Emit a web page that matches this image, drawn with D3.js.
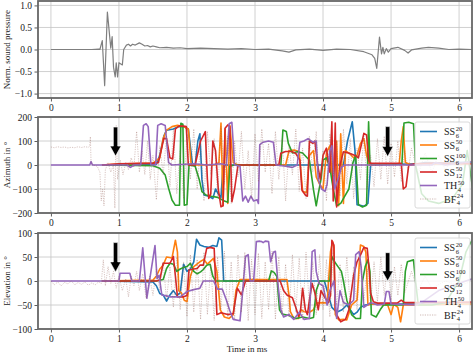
<!DOCTYPE html>
<html>
<head>
<meta charset="utf-8">
<script src="https://cdn.jsdelivr.net/npm/d3@7"></script>
<style>
body { margin: 0; background: #fff; }
text { font-family: "Liberation Serif", "DejaVu Serif", serif; fill: #222; }
</style>
</head>
<body>
<script>
// ---- data: [time in ms, value] ----
let pressure = [[0,0],[0.3,0],[0.6,0],[0.7,0.01],[0.72,0],[0.755,0.2],[0.79,-0.82],[0.83,0.85],[0.88,0.03],[0.9,0.29],[0.92,-0.4],[0.945,-0.62],[0.96,-0.3],[0.98,-0.62],[1.0,-0.3],[1.05,-0.35],[1.07,0],[1.11,0.1],[1.14,0.12],[1.17,0.08],[1.2,0.12],[1.24,0.1],[1.3,0.15],[1.34,0.12],[1.38,0.08],[1.42,0.09],[1.46,0.06],[1.5,0.08],[1.55,0.06],[1.6,0.04],[1.7,0.05],[1.8,0.03],[1.9,0.04],[2.0,0.02],[2.2,0.03],[2.4,0.02],[2.6,0.01],[2.8,0.02],[3.0,0.0],[3.2,0.01],[3.4,-0.03],[3.5,-0.06],[3.6,-0.01],[3.8,0.01],[4.0,-0.02],[4.2,0.01],[4.4,0.0],[4.6,-0.05],[4.72,-0.12],[4.76,-0.2],[4.79,-0.43],[4.83,0.28],[4.86,-0.1],[4.88,0.05],[4.9,-0.1],[4.93,0.02],[4.96,-0.06],[5.0,0.02],[5.1,0.05],[5.2,-0.02],[5.25,-0.08],[5.3,-0.01],[5.45,0.03],[5.55,0.05],[5.7,0.03],[5.85,0.0],[6.0,0.01],[6.2,0.0]];

let azSS20 = [[0.75,0],[1.55,3],[1.6,40],[1.66,120],[1.7,145],[1.8,150],[1.88,160],[1.95,160],[2.02,150],[2.08,5],[2.12,0],[2.16,100],[2.19,130],[2.22,-60],[2.25,-125],[2.32,-130],[2.38,-140],[2.42,-100],[2.46,-120],[2.5,-135],[2.53,-5],[2.6,0],[4.3,0],[4.36,100],[4.43,180],[4.47,60],[4.5,-165],[4.6,-172],[4.66,-160],[4.7,0],[5.4,5],[5.5,10],[5.8,8],[6.2,12]];
let azSS50 = [[0.75,0],[1.0,4],[1.5,8],[1.6,30],[1.65,110],[1.7,145],[1.78,160],[1.86,165],[1.95,160],[2.02,150],[2.06,5],[2.1,0],[2.4,0],[2.47,10],[2.5,175],[2.53,-170],[2.56,150],[2.6,-160],[2.63,165],[2.68,10],[2.75,0],[3.45,0],[3.5,60],[3.58,62],[3.65,55],[3.7,-110],[3.76,-115],[3.8,40],[3.86,60],[3.9,-50],[3.95,-80],[4.0,-100],[4.05,50],[4.1,80],[4.15,-100],[4.2,100],[4.23,-170],[4.26,130],[4.3,-160],[4.33,60],[4.4,45],[4.45,30],[4.5,40],[4.55,90],[4.6,110],[4.64,40],[4.68,0],[5.12,5],[5.15,100],[5.18,160],[5.21,10],[5.3,0],[5.5,5],[6.2,5]];
let azSS100 = [[0.75,0],[1.5,-3],[1.6,-14],[1.68,-42],[1.73,-97],[1.78,-146],[1.83,-168],[1.89,-168],[1.91,174],[1.94,170],[1.96,-168],[2.0,-165],[2.03,0],[2.12,-5],[2.18,-60],[2.22,-111],[2.28,-125],[2.36,-130],[2.45,-135],[2.55,-150],[2.6,-155],[2.63,-5],[2.7,0],[3.38,0],[3.41,146],[3.46,140],[3.49,90],[3.55,50],[3.62,55],[3.7,50],[3.8,20],[3.86,-104],[3.9,-170],[3.93,-120],[3.97,-60],[4.0,20],[4.05,30],[4.1,-10],[4.15,-100],[4.2,-170],[4.26,-160],[4.32,-130],[4.38,-100],[4.44,10],[4.48,40],[4.52,-165],[4.58,-175],[4.64,-168],[4.67,180],[4.69,5],[5.16,5],[5.19,175],[5.26,178],[5.33,172],[5.36,0],[5.45,-120],[5.55,-150],[5.7,-160],[5.9,-140],[6.05,-80],[6.12,60],[6.2,-100]];
let azSS12 = [[0.75,0],[1.0,5],[1.5,8],[1.58,10],[1.62,60],[1.66,111],[1.7,110],[1.75,30],[1.79,25],[1.83,150],[1.88,162],[1.95,162],[1.99,160],[2.02,0],[2.12,0],[2.2,100],[2.27,139],[2.3,-60],[2.32,-139],[2.35,-120],[2.38,100],[2.42,60],[2.46,-100],[2.5,-174],[2.53,-170],[2.56,153],[2.6,167],[2.63,160],[2.66,-153],[2.7,-100],[2.75,0],[3.35,0],[3.38,49],[3.45,56],[3.54,56],[3.6,48],[3.66,20],[3.69,-104],[3.74,-125],[3.77,-130],[3.8,100],[3.85,90],[3.88,100],[3.92,0],[3.96,-60],[4.0,40],[4.05,70],[4.1,-30],[4.13,180],[4.15,-150],[4.18,175],[4.2,-175],[4.25,0],[4.3,55],[4.4,48],[4.47,40],[4.52,30],[4.56,80],[4.6,132],[4.64,125],[4.67,20],[4.7,7],[5.15,7],[5.18,-100],[5.22,-90],[5.26,0],[5.35,5],[5.6,8],[6.2,5]];
let azTH = [[0,0],[0.57,0],[0.59,14],[0.61,0],[1.12,0],[1.17,-10],[1.22,0],[1.32,0],[1.36,165],[1.4,172],[1.43,160],[1.47,0],[1.54,0],[1.57,165],[1.62,172],[1.68,165],[1.73,10],[1.78,0],[2.1,5],[2.3,0],[2.5,5],[2.58,0],[2.62,172],[2.66,178],[2.7,0],[2.78,-5],[2.82,-150],[2.86,-130],[2.9,-155],[2.94,-130],[2.98,-150],[3.03,-145],[3.05,-160],[3.07,85],[3.12,95],[3.2,100],[3.27,95],[3.31,0],[3.45,-5],[3.55,-10],[3.62,0],[3.66,95],[3.72,100],[3.78,110],[3.85,95],[3.9,100],[3.93,-60],[3.98,-100],[4.03,-110],[4.06,-80],[4.1,60],[4.13,80],[4.17,-100],[4.22,-60],[4.27,-10],[4.32,0],[5.6,0],[5.65,10],[5.8,0],[6.2,15]];
let azBF = [[0,75],[0.05,72],[0.1,76],[0.15,73],[0.2,75],[0.25,71],[0.3,74],[0.35,72],[0.4,76],[0.45,73],[0.5,76],[0.55,74],[0.57,78],[0.58,118],[0.59,10],[0.62,0],[0.68,-5],[0.72,-30],[0.74,-150],[0.76,-100],[0.78,-170],[0.8,-20],[0.84,10],[0.88,-30],[0.92,0],[0.94,-180],[0.96,165],[0.98,-60],[1.02,20],[1.06,-40],[1.1,10],[1.14,-20],[1.18,30],[1.22,-10],[1.26,140],[1.3,-30],[1.34,60],[1.38,-40],[1.42,100],[1.46,-60],[1.5,40],[1.55,-145],[1.6,80],[1.65,-40],[1.7,120],[1.75,-90],[1.8,150],[1.85,-120],[1.9,60],[1.95,-140],[2.0,130],[2.05,-60],[2.1,150],[2.15,-100],[2.2,90],[2.25,-150],[2.3,140],[2.35,-40],[2.4,110],[2.45,-130],[2.5,160],[2.55,-80],[2.6,120],[2.65,-160],[2.7,100],[2.75,-50],[2.8,140],[2.85,-100],[2.9,60],[2.95,-140],[3.0,130],[3.05,-70],[3.1,150],[3.15,-30],[3.2,90],[3.25,-120],[3.3,140],[3.35,-60],[3.4,110],[3.45,-150],[3.5,80],[3.55,-40],[3.6,150],[3.65,-110],[3.7,70],[3.75,-140],[3.8,120],[3.85,-30],[3.9,140],[3.95,-100],[4.0,60],[4.05,-150],[4.1,130],[4.15,-50],[4.2,100],[4.25,-130],[4.3,150],[4.35,-80],[4.4,110],[4.45,-140],[4.5,70],[4.55,-60],[4.6,120],[4.65,-100],[4.7,40],[4.75,-90],[4.8,110],[4.85,-60],[4.9,120],[4.95,-80],[5.0,90],[5.05,-50],[5.1,100],[5.15,-70],[5.2,60],[5.25,-30],[5.3,70],[5.4,-40],[5.5,50],[5.6,-30],[5.7,40],[5.8,-20],[5.9,30],[6.0,-10],[6.1,20],[6.2,0]];

let elSS20 = [[0.75,0],[1.5,-2],[1.55,-10],[1.6,-26],[1.65,-29],[1.7,-42],[1.75,-29],[1.8,-20],[1.85,-30],[1.9,-25],[1.95,35],[2.0,20],[2.05,25],[2.1,40],[2.14,87],[2.19,75],[2.25,72],[2.32,70],[2.38,74],[2.44,72],[2.47,90],[2.51,85],[2.54,0],[4.02,0],[4.08,-30],[4.13,-55],[4.2,-65],[4.28,-60],[4.35,-50],[4.4,-60],[4.45,-70],[4.5,-65],[4.55,-55],[4.62,-50],[4.7,-48],[5.38,-48],[5.5,-45],[6.2,-45]];
let elSS50 = [[0.75,0],[1.5,2],[1.55,10],[1.6,25],[1.65,33],[1.7,50],[1.78,48],[1.83,85],[1.86,60],[1.88,-20],[1.92,-25],[1.96,-40],[2.0,-43],[2.05,10],[2.1,30],[2.19,40],[2.25,45],[2.3,35],[2.39,47],[2.44,20],[2.49,-60],[2.55,-75],[2.62,-78],[2.68,-70],[2.72,-20],[2.78,3],[3.47,3],[3.5,-30],[3.52,-64],[3.57,-78],[3.64,-78],[3.68,-60],[3.72,-64],[3.8,-65],[3.86,-60],[3.9,-46],[4.0,-45],[4.06,-46],[4.11,61],[4.14,82],[4.16,70],[4.18,-70],[4.23,-81],[4.3,-80],[4.35,-81],[4.42,-50],[4.5,-40],[4.55,75],[4.6,72],[4.63,60],[4.66,-50],[4.72,-48],[4.95,-50],[5.0,-70],[5.04,-48],[5.1,-55],[5.14,-85],[5.18,-50],[5.38,-50],[6.2,-48]];
let elSS100 = [[0.75,0],[1.55,0],[1.65,3],[1.7,26],[1.75,37],[1.8,35],[1.85,20],[1.9,25],[1.95,28],[2.0,30],[2.05,37],[2.1,20],[2.15,15],[2.2,19],[2.24,24],[2.29,33],[2.34,35],[2.38,10],[2.42,0],[3.2,0],[3.24,21],[3.28,18],[3.32,10],[3.36,-60],[3.4,-69],[3.5,-72],[3.6,-78],[3.7,-75],[3.8,-78],[3.86,-76],[3.9,-20],[3.95,0],[4.1,0],[4.13,51],[4.17,40],[4.22,30],[4.27,20],[4.3,0],[4.35,-40],[4.42,-70],[4.48,-78],[4.55,-78],[4.58,0],[4.62,30],[4.66,44],[4.69,20],[4.71,-70],[4.78,-75],[4.84,-60],[4.89,-50],[5.18,-50],[5.21,20],[5.24,40],[5.33,44],[5.36,0],[5.4,-50],[5.6,-50],[5.8,-45],[6.0,0],[6.1,60],[6.17,80],[6.2,85]];
let elSS12 = [[0.75,0],[1.55,0],[1.6,2],[1.65,37],[1.7,37],[1.75,37],[1.8,51],[1.83,10],[1.86,-33],[1.95,-33],[2.0,-30],[2.03,23],[2.1,25],[2.15,26],[2.19,33],[2.24,33],[2.29,68],[2.34,70],[2.4,68],[2.44,-70],[2.5,-66],[2.6,-70],[2.68,-68],[2.74,-15],[2.8,-29],[2.86,0],[3.37,0],[3.42,-20],[3.47,-29],[3.55,-35],[3.6,-55],[3.64,-74],[3.67,-60],[3.7,-15],[3.74,-60],[3.77,-70],[3.8,-40],[3.84,-5],[3.88,-25],[3.93,-60],[3.97,-20],[4.03,-35],[4.08,-45],[4.11,-30],[4.13,85],[4.16,75],[4.18,-60],[4.2,-70],[4.26,-85],[4.33,-80],[4.38,-60],[4.45,12],[4.5,40],[4.55,54],[4.6,70],[4.65,68],[4.68,20],[4.7,-25],[4.74,-43],[4.8,-46],[5.09,-46],[5.15,-40],[5.2,-45],[5.38,-45],[6.2,-44]];
let elTH = [[0,0],[1.0,0],[1.015,16],[1.16,16],[1.19,0],[1.3,0],[1.35,69],[1.41,-36],[1.46,10],[1.53,74],[1.56,5],[1.59,12],[1.63,-29],[1.7,-31],[1.75,-33],[1.9,-33],[2.0,-22],[2.1,-18],[2.19,-15],[2.24,0],[2.39,0],[2.45,-17],[2.52,-17],[2.58,-40],[2.63,-62],[2.68,-80],[2.78,-83],[2.82,-20],[2.86,51],[2.9,55],[2.93,0],[2.98,0],[3.02,82],[3.07,83],[3.1,82],[3.12,80],[3.15,83],[3.2,82],[3.23,40],[3.27,60],[3.3,62],[3.34,-10],[3.38,-60],[3.42,-75],[3.5,-70],[3.57,-80],[3.65,-65],[3.72,-80],[3.8,-78],[3.84,61],[3.88,65],[3.9,20],[3.94,-5],[4.0,-10],[4.06,-50],[4.1,-20],[4.16,0],[4.2,-78],[4.25,-20],[4.3,-45],[4.38,-50],[4.45,-40],[4.48,55],[4.53,61],[4.56,30],[4.6,-55],[4.65,-50],[4.7,-45],[4.8,-50],[4.9,-48],[4.93,-22],[4.97,-22],[5.0,-48],[5.38,-50],[5.5,-40],[5.7,-20],[5.9,-10],[6.1,0],[6.2,5]];
let elBF = [[0,0],[0.05,-8],[0.1,-2],[0.15,-10],[0.2,-3],[0.25,-6],[0.3,0],[0.35,-8],[0.4,-3],[0.45,-7],[0.5,-2],[0.55,-9],[0.6,-4],[0.65,-8],[0.7,-2],[0.74,-5],[0.77,44],[0.8,-10],[0.84,30],[0.88,-5],[0.92,20],[0.96,-15],[1.0,10],[1.05,-20],[1.1,5],[1.14,-33],[1.18,10],[1.22,-10],[1.26,20],[1.3,-20],[1.35,15],[1.4,-36],[1.45,10],[1.5,-30],[1.55,25],[1.6,-20],[1.65,40],[1.7,-40],[1.75,30],[1.8,-55],[1.85,50],[1.9,-60],[1.95,40],[2.0,-74],[2.05,55],[2.1,-65],[2.15,45],[2.2,-80],[2.25,60],[2.3,-70],[2.35,35],[2.4,-82],[2.45,50],[2.5,-60],[2.55,62],[2.6,-75],[2.65,40],[2.7,-80],[2.75,55],[2.8,-65],[2.85,60],[2.9,-83],[2.95,45],[3.0,-70],[3.05,58],[3.1,-78],[3.15,40],[3.2,-60],[3.25,62],[3.3,-80],[3.35,50],[3.4,-70],[3.45,35],[3.5,-75],[3.55,55],[3.6,-65],[3.65,48],[3.7,-80],[3.75,60],[3.8,-55],[3.85,40],[3.9,-70],[3.95,55],[4.0,-60],[4.05,45],[4.1,-75],[4.15,60],[4.2,-50],[4.25,35],[4.3,-65],[4.35,50],[4.4,-55],[4.45,30],[4.5,-60],[4.55,40],[4.6,-40],[4.65,25],[4.7,-50],[4.75,40],[4.8,-45],[4.85,50],[4.9,-30],[4.95,45],[5.0,-40],[5.05,30],[5.1,-30],[5.15,35],[5.2,-25],[5.3,20],[5.4,-20],[5.5,10],[5.6,-15],[5.8,0],[6.0,-10],[6.2,0]];

let seriesNames = ["SS", "SS", "SS", "SS", "TH", "BF"];
let seriesSup = ["20", "50", "100", "50", "50", "24"];
let seriesSub = ["6", "6", "6", "12", "4", "4"];
let seriesColors = ["#1f77b4", "#ff7f0e", "#2ca02c", "#d62728", "#9467bd", "#8c564b"];

let xTicks = [0, 1, 2, 3, 4, 5, 6];
let pressureTicks = [-1, -0.5, 0, 0.5, 1];
let azTicks = [-200, -100, 0, 100, 200];
let elTicks = [-100, -50, 0, 50, 100];

// arrows: [time, start value, tip value]
let azArrows = [[0.95, 158, 37], [4.95, 160, 35]];
let elArrows = [[0.95, 80, 19], [4.95, 59, 0]];

// ---- layout ----
let width = 474;
let height = 353;
let left = 38, right = 472;

let svg = d3.select("body")
    .append("svg")
    .attr("width", width)
    .attr("height", height);

let x = d3.scaleLinear().domain([-0.19, 6.19]).range([left, right]);

let panels = [
    {top: 1, bottom: 98, domain: [-1.1, 1.1], ticks: pressureTicks, fmt: d3.format(".1f"), label: "Norm. sound pressure"},
    {top: 117, bottom: 213, domain: [-200, 200], ticks: azTicks, fmt: d3.format("d"), label: "Azimuth in \u00b0"},
    {top: 233, bottom: 329, domain: [-100, 100], ticks: elTicks, fmt: d3.format("d"), label: "Elevation in \u00b0"}
];

panels.forEach(function(p, i) {
    p.y = d3.scaleLinear().domain(p.domain).range([p.bottom, p.top]);
    let g = svg.append("g");
    p.g = g;

    // grid
    g.selectAll(".gx").data(xTicks).enter().append("line")
        .attr("x1", d => x(d)).attr("x2", d => x(d))
        .attr("y1", p.top).attr("y2", p.bottom)
        .attr("stroke", "#c4c4c4").attr("stroke-width", 0.8);
    g.selectAll(".gy").data(p.ticks).enter().append("line")
        .attr("x1", left).attr("x2", right)
        .attr("y1", d => p.y(d)).attr("y2", d => p.y(d))
        .attr("stroke", "#c4c4c4").attr("stroke-width", 0.8);

    // axes
    let xAxis = d3.axisBottom(x).tickValues(xTicks).tickSize(3.5).tickPadding(2.5).tickFormat(d3.format("d"));
    let ax = g.append("g").attr("transform", "translate(0," + p.bottom + ")").call(xAxis);
    let yAxis = d3.axisLeft(p.y).tickValues(p.ticks).tickSize(3.5).tickPadding(2.5).tickFormat(p.fmt);
    let ay = g.append("g").attr("transform", "translate(" + left + ",0)").call(yAxis);
    [ax, ay].forEach(function(a) {
        a.select(".domain").remove();
        a.selectAll("line").attr("stroke", "#333").attr("stroke-width", 0.8);
        a.selectAll("text").attr("font-size", 9.5).attr("fill", "#222")
            .style("font-family", "'Liberation Serif', serif");
    });

    // y label
    svg.append("text")
        .attr("transform", "translate(10," + ((p.top + p.bottom) / 2) + ") rotate(-90)")
        .attr("text-anchor", "middle")
        .attr("font-size", 9)
        .text(p.label);

    svg.append("clipPath").attr("id", "clip" + i)
        .append("rect").attr("x", left).attr("y", p.top).attr("width", right - left).attr("height", p.bottom - p.top);
    p.plot = svg.append("g").attr("clip-path", "url(#clip" + i + ")");
});

function drawLine(p, data, color, w, dash, opacity) {
    let line = d3.line().x(d => x(d[0])).y(d => p.y(d[1]));
    p.plot.append("path")
        .datum(data)
        .attr("d", line)
        .attr("fill", "none")
        .attr("stroke", color)
        .attr("stroke-width", w)
        .attr("stroke-linejoin", "round")
        .attr("stroke-dasharray", dash)
        .attr("opacity", opacity);
}

drawLine(panels[0], pressure, "#7f7f7f", 1.2, null, 1);

let azSeries = [azSS20, azSS50, azSS100, azSS12, azTH, azBF];
let elSeries = [elSS20, elSS50, elSS100, elSS12, elTH, elBF];
[[panels[1], azSeries], [panels[2], elSeries]].forEach(function(pair) {
    pair[1].forEach(function(s, k) {
        if (k == 5) {
            drawLine(pair[0], s, seriesColors[k], 0.9, "1.2,1.2", 0.38);
        } else {
            drawLine(pair[0], s, seriesColors[k], 1.6, null, 1);
        }
    });
});

// arrows
function drawArrows(p, arrows) {
    arrows.forEach(function(a) {
        let cx = x(a[0]);
        let y0 = p.y(a[1]);
        let y1 = p.y(a[2]);
        let hb = y1 - 10;
        let pts = [[cx - 2.2, y0], [cx + 2.2, y0], [cx + 2.2, hb], [cx + 5.5, hb], [cx, y1], [cx - 5.5, hb], [cx - 2.2, hb]];
        p.plot.append("path")
            .attr("d", "M" + pts.map(q => q.join(",")).join("L") + "Z")
            .attr("fill", "#000")
            .attr("stroke", "#fff")
            .attr("stroke-width", 0.6);
    });
}
drawArrows(panels[1], azArrows);
drawArrows(panels[2], elArrows);

// frames
panels.forEach(function(p) {
    svg.append("rect")
        .attr("x", left).attr("y", p.top)
        .attr("width", right - left).attr("height", p.bottom - p.top)
        .attr("fill", "none")
        .attr("stroke", "#666")
        .attr("stroke-width", 1.8);
});

// legends
[panels[1], panels[2]].forEach(function(p) {
    let lx = 415, ly = p.top + 5;
    let lg = svg.append("g");
    lg.append("rect")
        .attr("x", lx).attr("y", ly)
        .attr("width", 55).attr("height", 86)
        .attr("rx", 2)
        .attr("fill", "#fff").attr("fill-opacity", 0.8)
        .attr("stroke", "#d0d0d0").attr("stroke-width", 0.8);
    seriesNames.forEach(function(name, k) {
        let ry = ly + 9.5 + k * 13.5;
        lg.append("line")
            .attr("x1", lx + 5).attr("x2", lx + 22)
            .attr("y1", ry).attr("y2", ry)
            .attr("stroke", seriesColors[k])
            .attr("stroke-width", k == 5 ? 0.9 : 1.6)
            .attr("stroke-dasharray", k == 5 ? "1.2,1.2" : null)
            .attr("opacity", k == 5 ? 0.45 : 1);
        let t = lg.append("text")
            .attr("x", lx + 29).attr("y", ry + 3.5)
            .attr("font-size", 10)
            .text(name);
        let w = t.node().getComputedTextLength();
        lg.append("text")
            .attr("x", lx + 29 + w + 0.5).attr("y", ry - 1)
            .attr("font-size", 6.5)
            .text(seriesSup[k]);
        lg.append("text")
            .attr("x", lx + 29 + w + 0.5).attr("y", ry + 6)
            .attr("font-size", 6.5)
            .text(seriesSub[k]);
    });
});

svg.append("text")
    .attr("x", (left + right) / 2 - 8)
    .attr("y", 352)
    .attr("text-anchor", "middle")
    .attr("font-size", 9)
    .text("Time in ms");
</script>
</body>
</html>
